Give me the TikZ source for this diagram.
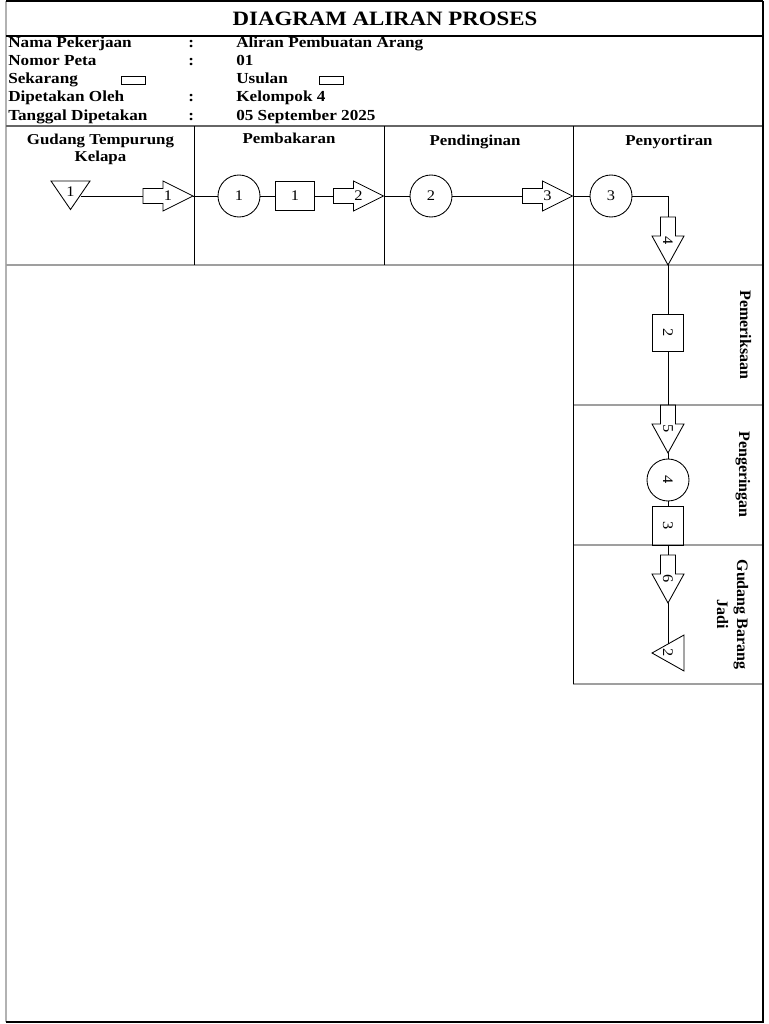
\documentclass[tikz,border=0pt]{standalone}
\usepackage{fontspec}
\setmainfont{Liberation Serif}[FakeStretch=1.12]
\newfontfamily\vfont{Liberation Serif}
\usepackage{graphicx}
\newcommand\vnum[1]{\rotatebox{-90}{#1}}
\begin{document}
\begin{tikzpicture}[x=0.75pt,y=-0.75pt,
  shp/.style={draw, line width=0.65pt},
  numf/.style={font=\fontsize{11}{12}\selectfont},
  proc/.style={shp, circle, minimum size=31.5pt, inner sep=0pt, numf},
  insp/.style={shp, rectangle, inner sep=0pt, numf},
  bxh/.style={inner sep=0pt, minimum width=37.5pt, minimum height=22.5pt, numf},
  bxv/.style={inner sep=0pt, minimum width=24pt, minimum height=36pt, numf},
  hlab/.style={font=\bfseries\fontsize{11.3}{13}\selectfont, anchor=base, inner sep=0pt},
  vlab/.style={font=\vfont\bfseries\fontsize{12}{14}\selectfont, rotate=-90, anchor=base, inner sep=0pt},
  info/.style={font=\bfseries\fontsize{11.5}{13}\selectfont, anchor=base west, inner sep=0pt},
  conn/.style={line width=0.65pt},
  tline/.style={line width=0.65pt},
  gline/.style={line width=1.5pt, gray!75},
  rarr/.pic={\draw[shp] (-25,-7.5) -- (-5,-7.5) -- (-5,-15) -- (25,0) -- (-5,15) -- (-5,7.5) -- (-25,7.5) -- cycle;},
  darr/.pic={\draw[shp] (-7.5,-24) -- (-7.5,-5) -- (-16,-5) -- (0,24) -- (16,-5) -- (7.5,-5) -- (7.5,-24) -- cycle;},
  trid/.pic={\draw[shp] (-19.5,-15) -- (19.5,-15) -- (0,13.5) -- cycle;},
  tril/.pic={\draw[shp] (-16,0) -- (16,-18) -- (16,18) -- cycle;}
]
\useasboundingbox (0,0) rectangle (768,1024);

% table frame
\draw[gray!60, line width=1pt] (6,1) -- (6,1022);
\draw[tline, line width=0.8pt] (6,1) -- (763,1);
\draw[tline, line width=0.8pt] (6,36) -- (763,36);
\draw[gline, line width=1.2pt, gray!80!black] (6,126) -- (763,126);
\draw[gline] (6,265) -- (763,265);
\draw[gline, line width=1.2pt] (573,405) -- (763,405);
\draw[gline, line width=1.2pt] (573,545) -- (763,545);
\draw[gline, line width=1.2pt] (573,684) -- (763,684);
\draw[tline] (194,126) -- (194,265);
\draw[tline] (384,126) -- (384,265);
\draw[tline] (573,126) -- (573,684);
\draw[line width=1.5pt] (763,1) -- (763,1022) -- (6,1022);

% title
\node[font=\bfseries\fontsize{15.3}{17}\selectfont, anchor=base, inner sep=0pt] (title) at (385,26) {DIAGRAM ALIRAN PROSES};

% info block
\node[info] (l1) at (8,48) {Nama Pekerjaan};
\node[info] (k1) at (188,48) {:};
\node[info] (v1) at (236,48) {Aliran Pembuatan Arang};
\node[info] (l2) at (8,66) {Nomor Peta};
\node[info] (k2) at (188,66) {:};
\node[info] (v2) at (236,66) {01};
\node[info] (l3) at (8,84) {Sekarang};
\node[draw, line width=0.6pt, minimum width=18pt, minimum height=6.5pt, inner sep=0pt] (skbox) at (133,80.5) {};
\node[info] (v3) at (236,84) {Usulan};
\node[draw, line width=0.6pt, minimum width=18pt, minimum height=6.5pt, inner sep=0pt] (usbox) at (331.5,80.5) {};
\node[info] (l4) at (8,102) {Dipetakan Oleh};
\node[info] (k4) at (188,102) {:};
\node[info] (v4) at (236,102) {Kelompok 4};
\node[info] (l5) at (8,120) {Tanggal Dipetakan};
\node[info] (k5) at (188,120) {:};
\node[info] (v5) at (236,120) {05 September 2025};

% column headings
\node[hlab] (h1a) at (100.5,144) {Gudang Tempurung};
\node[hlab] (h1b) at (100.5,161.5) {Kelapa};
\node[hlab] (h2) at (289,143.5) {Pembakaran};
\node[hlab] (h3) at (475,145) {Pendinginan};
\node[hlab] (h4) at (669,145) {Penyortiran};
\node[vlab] (h5) at (740,335) {Pemeriksaan};
\node[vlab] (h6) at (739,474.5) {Pengeringan};
\node[vlab] (h7a) at (737,614.5) {Gudang Barang};
\node[vlab] (h7b) at (717,614.5) {Jadi};

% symbols
\node[inner sep=0pt, minimum width=15pt, minimum height=22pt, numf] (t1) at (70.5,196) {\smash{1}};
\pic at (t1.center) {trid};
\node[bxh] (a1) at (168,196) {1};
\pic at (a1.center) {rarr};
\node[proc] (c1) at (239,196) {1};
\node[insp, minimum width=29.25pt, minimum height=22pt] (r1) at (295,196) {1};
\node[bxh] (a2) at (358.5,196) {2};
\pic at (a2.center) {rarr};
\node[proc] (c2) at (431,196) {2};
\node[bxh] (a3) at (547.5,196) {3};
\pic at (a3.center) {rarr};
\node[proc] (c3) at (611,196) {3};
\node[bxv] (a4) at (668,241) {\vnum{4}};
\pic at (a4.center) {darr};
\node[insp, minimum width=23.25pt, minimum height=27.75pt] (r2) at (668,333) {\vnum{2}};
\node[bxv] (a5) at (668,429) {\vnum{5}};
\pic at (a5.center) {darr};
\node[proc] (c4) at (668,480) {\vnum{4}};
\node[insp, minimum width=23.25pt, minimum height=29.25pt] (r3) at (668,525.5) {\vnum{3}};
\node[bxv] (a6) at (668,579) {\vnum{6}};
\pic at (a6.center) {darr};
\node[inner sep=0pt, minimum width=15pt, minimum height=13.5pt, numf] (t2) at (668,653) {\vnum{2}};
\pic at (t2.center) {tril};

% connectors
\draw[conn] (t1) -- (a1);
\draw[conn] (a1) -- (c1);
\draw[conn] (c1) -- (r1);
\draw[conn] (r1) -- (a2);
\draw[conn] (a2) -- (c2);
\draw[conn] (c2) -- (a3);
\draw[conn] (a3) -- (c3);
\draw[conn] (c3) -| (a4);
\draw[conn] (a4) -- (r2);
\draw[conn] (r2) -- (a5);
\draw[conn] (a5) -- (c4);
\draw[conn] (c4) -- (r3);
\draw[conn] (r3) -- (a6);
\draw[conn] (a6) -- (t2);
\end{tikzpicture}
\end{document}
